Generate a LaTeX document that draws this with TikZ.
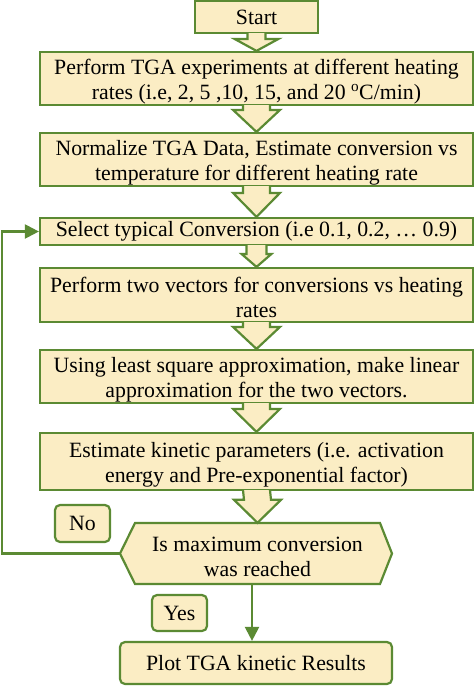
\documentclass[tikz,border=0pt]{standalone}
\usepackage{fontspec}
\setmainfont{Liberation Serif}
\usetikzlibrary{calc,arrows.meta}
\definecolor{bfill}{HTML}{FBEDC4}
\definecolor{bline}{HTML}{5B8A33}
\newcommand{\lowr}{\rule{0pt}{21pt}}
\tikzset{
  box/.style={draw=bline, fill=bfill, line width=2.2pt, rectangle, align=center, inner sep=0pt,
     font=\fontsize{21.8}{25}\selectfont},
  rbox/.style={box, rounded corners=5pt},
  blk/.style={draw=bline, fill=bfill, line width=2.2pt, line join=miter},
  conn/.style={draw=bline, line width=2.2pt},
  tip/.style={-{Triangle[length=14pt,width=14pt]}},
}
\newcommand{\barrow}[5]{%
  \draw[blk] ($(#1.south)+(-#3,-1)$) -- ($(#2.north)+(-#3,-#5)$) -- ($(#2.north)+(-#4,-#5)$)
   -- (#2.north) -- ($(#2.north)+(#4,-#5)$) -- ($(#2.north)+(#3,-#5)$) -- ($(#1.south)+(#3,-1)$);}
\begin{document}
\begin{tikzpicture}[x=1pt,y=-1pt]
\useasboundingbox (0,0) rectangle (474,686);
% boxes
\node[box, minimum width=123pt, minimum height=32pt] (start) at (256.5,17) {Start};
\node[box, minimum width=433pt, minimum height=53pt] (b2) at (256.5,78.5)
  {\lowr Perform TGA experiments at different heating\\rates (i.e, 2, 5 ,10, 15, and 20 \textsuperscript{o}C/min)};
\node[box, minimum width=433pt, minimum height=53pt] (b3) at (256.5,159.5)
  {\lowr Normalize TGA Data, Estimate conversion vs\\temperature for different heating rate};
\node[box, minimum width=433pt, minimum height=27pt] (b4) at (256.5,231.5)
  {Select typical Conversion (i.e 0.1, 0.2, \dots\ 0.9)};
\node[box, minimum width=433pt, minimum height=54pt] (b5) at (256.5,295)
  {\lowr Perform two vectors for conversions vs heating\\rates};
\node[box, minimum width=433pt, minimum height=53pt] (b6) at (256.5,376.5)
  {\lowr Using least square approximation, make linear\\approximation for the two vectors.};
\node[box, minimum width=433pt, minimum height=57pt] (b7) at (256.5,461.5)
  {\lowr Estimate kinetic parameters (i.e. activation\\energy and Pre-exponential factor)};
% decision hexagon
\coordinate (hexW) at (120,553.5);
\draw[blk] (hexW) -- (135,523) -- (380,523) -- (392,553.5) -- (380,584) -- (135,584) -- cycle;
\node[align=center, inner sep=0pt, font=\fontsize{21.8}{25}\selectfont, minimum width=245pt, minimum height=61pt] (hex) at (257.5,553.5)
  {\lowr Is maximum conversion\\was reached};
\node[rbox, minimum width=272pt, minimum height=42pt] (plot) at (256,663) {Plot TGA kinetic Results};
\node[rbox, minimum width=55pt, minimum height=37pt] (no) at (82.5,523.5) {No};
\node[rbox, minimum width=55pt, minimum height=36pt] (yes) at (179.5,613) {Yes};
% block arrows
\barrow{start}{b2}{9}{22}{12}
\barrow{b2}{b3}{13.5}{23.5}{22}
\barrow{b3}{b4}{13.5}{23.5}{24}
\barrow{b4}{b5}{10}{15}{13}
\barrow{b5}{b6}{13.5}{23.5}{22}
\barrow{b6}{b7}{13.5}{23.5}{23}
\barrow{b7}{hex}{13.5}{23.5}{23}
% feedback loop
\draw[conn, tip] (hexW) -| ([xshift=-37pt]b4.west) -- (b4.west);
% yes arrow
\coordinate (ys) at (252,584);
\draw[conn, tip] (ys) -- (ys |- plot.north);
\end{tikzpicture}
\end{document}
